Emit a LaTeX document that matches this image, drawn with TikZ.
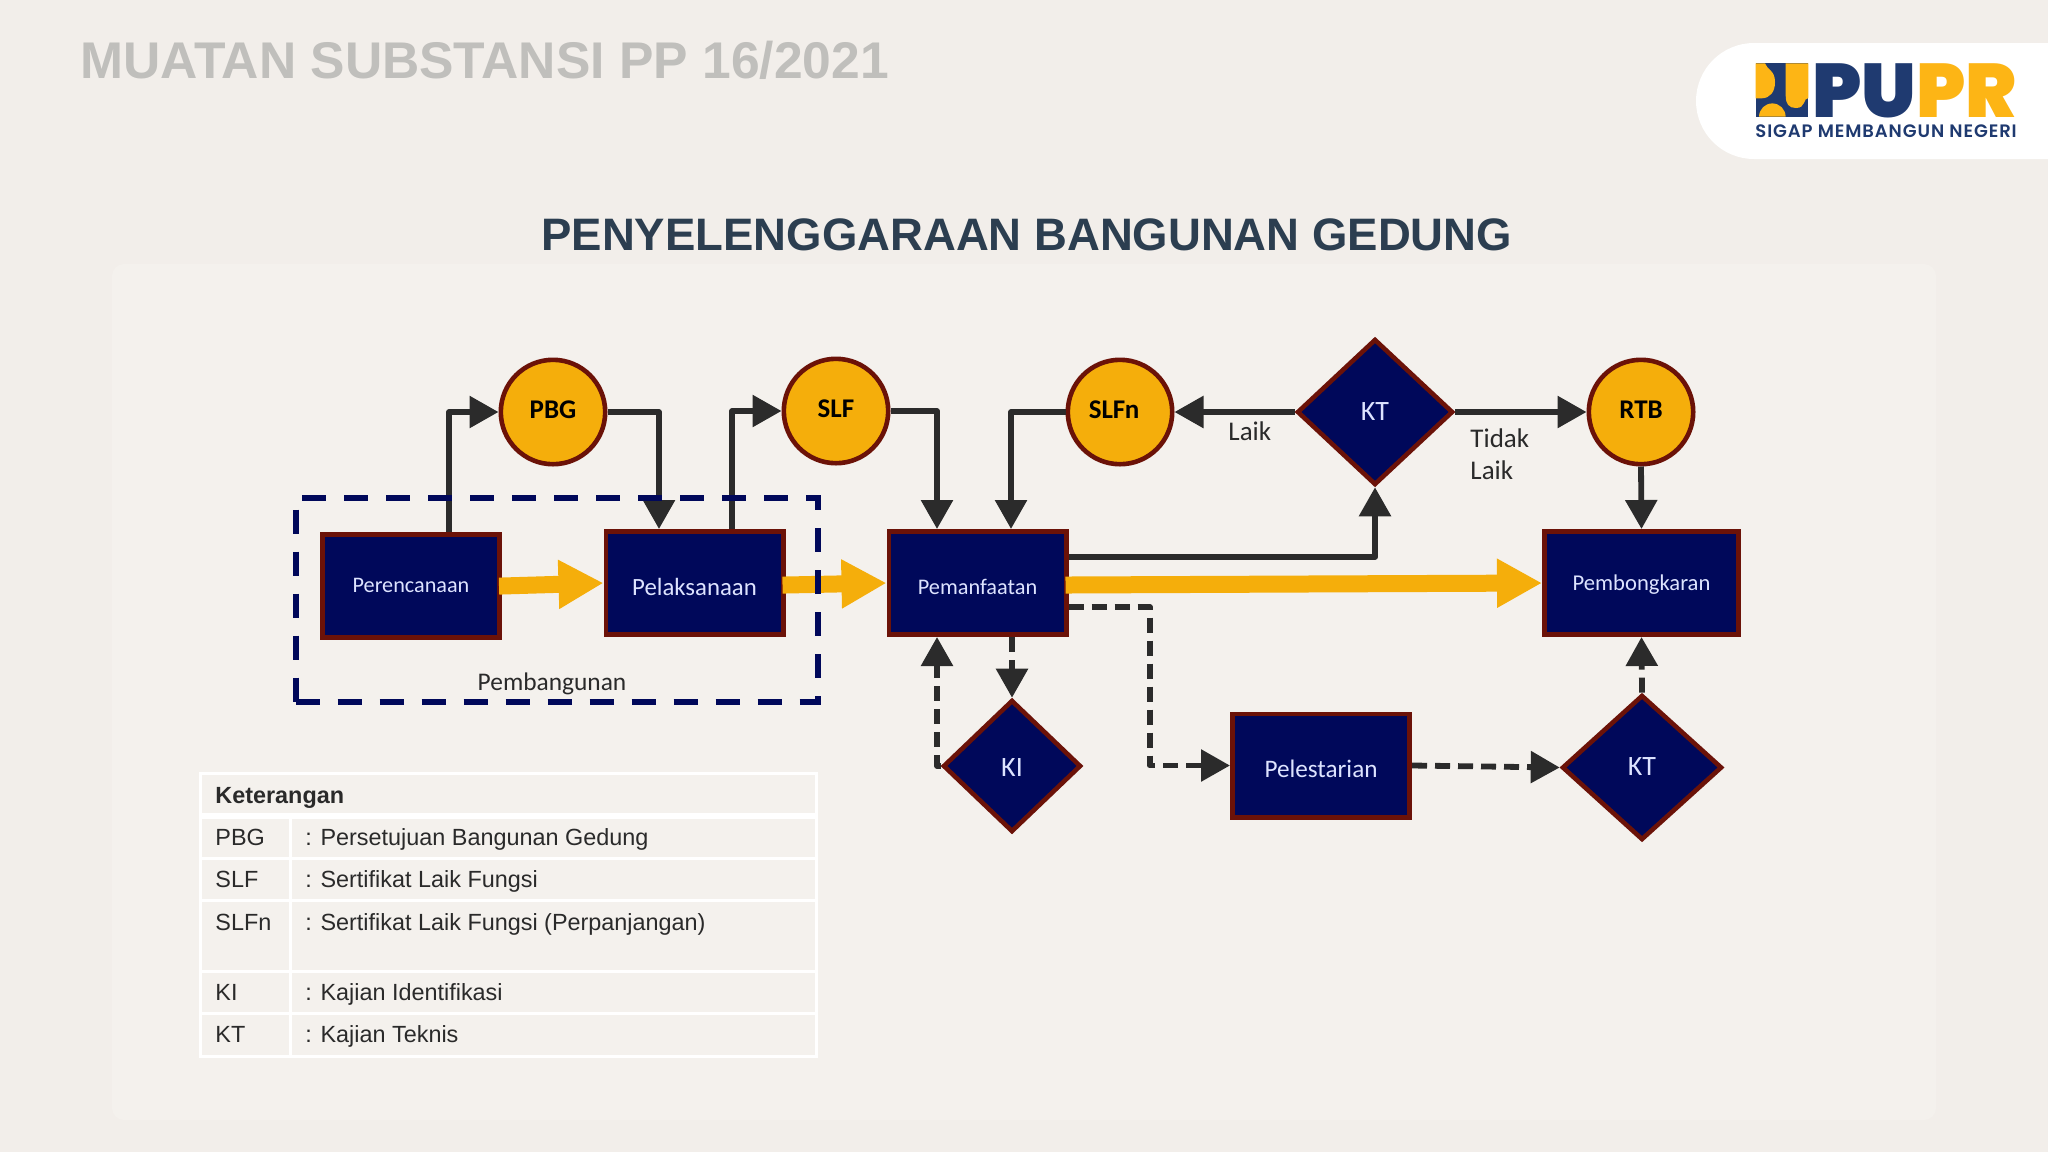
\documentclass[tikz,border=0pt]{standalone}
\usepackage{fontspec}
\setmainfont{Liberation Sans}
\newfontfamily\nodefont{Carlito}
\newfontfamily\logofont[UprightFont=* Black]{Poppins}
\newfontfamily\logosub[UprightFont=* SemiBold,LetterSpace=5]{Poppins}
\usetikzlibrary{shapes.geometric,arrows.meta}
\definecolor{bgc}{HTML}{F2EEEA}
\definecolor{panelc}{HTML}{F4F1ED}
\definecolor{navyc}{HTML}{00085A}
\definecolor{brdc}{HTML}{6B1208}
\definecolor{amberc}{HTML}{F5AE0B}
\definecolor{linec}{HTML}{2B2B2B}
\definecolor{logonavy}{HTML}{1F3A70}
\definecolor{logoamber}{HTML}{FDB515}
\definecolor{ttlgray}{HTML}{C0BFBC}
\definecolor{ttldark}{HTML}{2C3E50}
\definecolor{boxtext}{HTML}{DDE3FF}
\definecolor{tbltext}{HTML}{2A2A2A}
\newcommand{\nf}[1]{\nodefont\fontsize{#1}{14}\selectfont}
\tikzset{
  boxnode/.style={rectangle,draw=brdc,fill=navyc,line width=2.3pt,minimum width=88.7pt,minimum height=51.7pt,inner sep=0pt,text=boxtext,text depth=0pt,text height=#1},
  circnode/.style={circle,draw=brdc,fill=amberc,line width=2.3pt,minimum size=52.2pt,inner sep=0pt,text=black,font=\nodefont\bfseries\fontsize{13.5}{15}\selectfont,text depth=0pt,text height=6pt},
  dmdnode/.style={diamond,draw=brdc,fill=navyc,line width=2.3pt,inner sep=0pt,text=boxtext,font=\nf{14},text depth=0pt,text height=#1},
  conn/.style={draw=linec,line width=2.9pt,line join=round,-{Triangle[length=14.5pt,width=15.5pt]}},
  dconn/.style={conn,dash pattern=on 7.5pt off 4pt},
  bigarrow/.style={draw=amberc,line width=8.5pt,shorten <=-1.5pt,-{Triangle[length=22.5pt,width=23pt]}},
  lbl/.style={inner sep=0pt,anchor=base west,text=tbltext,font=\nf{13.5}},
  tbl/.style={inner sep=0pt,anchor=base west,text=tbltext,font=\fontsize{11.7}{13}\selectfont},
  tblline/.style={draw=white,line width=1.5pt},
}
\begin{document}
\begin{tikzpicture}[x=0.5pt,y=-0.5pt]
\useasboundingbox (0,0) rectangle (2048,1152);
\fill[bgc] (0,0) rectangle (2048,1152);
\fill[panelc,rounded corners=6pt] (112,264) rectangle (1936,1120);
% logo
\fill[white] (2048,43) -- (1754,43) arc[start angle=90,end angle=270,radius=29pt] -- (2048,159) -- cycle;
\fill[logonavy] (1755.7,63.3) rectangle (1808.3,116.7);
\fill[logoamber] (1755.7,63.3) -- (1765,63.3) .. controls (1767,70) and (1775,70) .. (1775,82) .. controls (1775,92) and (1770,98) .. (1762,98.3) -- (1755.7,98.3) -- cycle;
\fill[logoamber] (1785.7,63.3) -- (1808.3,63.3) -- (1808.3,98) .. controls (1803,98) and (1806,108) .. (1796,108) .. controls (1789,108) and (1785.7,104) .. (1785.7,96) -- cycle;
\fill[logoamber] (1759,116.7) arc[start angle=180,end angle=0,radius=6.65pt] -- cycle;
\node[inner sep=0pt,anchor=base west,text height=27pt,text depth=0pt,font=\logofont\fontsize{38}{40}\selectfont] (logotext) at (1812,117) {\textcolor{logonavy}{PU}\textcolor{logoamber}{PR}};
\node[inner sep=0pt,anchor=base west,text=logonavy,text height=6.5pt,text depth=0pt,font=\logosub\fontsize{9}{10}\selectfont] (logosubt) at (1755,137) {SIGAP MEMBANGUN NEGERI};
% titles
\node[inner sep=0pt,anchor=base west,text=ttlgray,font=\bfseries\fontsize{25.8}{28}\selectfont] (maintitle) at (80,78) {MUATAN SUBSTANSI PP 16/2021};
\node[inner sep=0pt,anchor=base west,text=ttldark,font=\bfseries\fontsize{22.75}{26}\selectfont] (subtitle) at (541,250) {PENYELENGGARAAN BANGUNAN GEDUNG};
% nodes
\node[boxnode=6pt,font=\nf{11.1}] (per) at (411,586) {Perencanaan};
\node[boxnode=12pt,font=\nf{12.4}] (pel) at (694.5,583) {Pelaksanaan};
\node[boxnode=11pt,font=\nf{11.15}] (pem) at (977.5,583) {Pemanfaatan};
\node[boxnode=7pt,font=\nf{11.3},minimum width=97.2pt] (pbk) at (1641.5,583) {Pembongkaran};
\node[boxnode=11.5pt,font=\nf{12.6}] (pls) at (1321,765.5) {Pelestarian};
\node[circnode] (pbg) at (553,412) {PBG};
\node[circnode] (slf) at (836,411) {SLF};
\node[circnode] (slfn) at (1120,412) {SLFn\rule{6pt}{0pt}};
\node[circnode] (rtb) at (1641,412) {RTB};
\node[dmdnode=8pt,minimum width=78pt,minimum height=73pt] (ktu) at (1375,412) {KT};
\node[dmdnode=10pt,minimum width=69pt,minimum height=66pt] (ki) at (1012,766) {KI};
\node[dmdnode=7.5pt,minimum width=80pt,minimum height=72.5pt] (ktb) at (1642,767.5) {KT};
% connectors
\draw[conn] ([xshift=19pt]per.north) |- (pbg.west);
\draw[conn] (pbg.east) -| ([xshift=-17.75pt]pel.north);
\draw[conn] ([xshift=18.75pt]pel.north) |- (slf.west);
\draw[conn] (slf.east) -| ([xshift=-20.25pt]pem.north);
\draw[conn] (slfn.west) -| ([xshift=16.75pt]pem.north);
\draw[conn] (ktu.west) -- (slfn.east);
\draw[conn] (ktu.east) -- (rtb.west);
\draw[conn] (rtb.south) -- (pbk.north);
\draw[conn] ([yshift=13pt]pem.east) -| (ktu.south);
\coordinate (bend) at (1150,700);
\draw[dconn] ([yshift=-12pt]pem.east) -- ([yshift=-12pt]pem.east -| bend) -- (bend |- pls.west) -- (pls.west);
\draw[dconn] (pem.south -| ki.north) -- (ki.north);
\draw[dconn] (ki.west) -| ([xshift=-20.25pt]pem.south);
\draw[dconn] (pls.east) -- (ktb.west);
\draw[dconn] (ktb.north) -- (pbk.south);
\draw[bigarrow] (per.east) -- (pel.west);
\draw[bigarrow] ([yshift=-1pt]pel.east) -- (pem.west);
\draw[bigarrow] ([yshift=-1pt]pem.east) -- (pbk.west);
% dashed frame
\node[draw=navyc,line width=3pt,dash pattern=on 12pt off 9pt,rectangle,minimum width=261pt,minimum height=102pt,inner sep=0pt] (frame) at (556.5,599.5) {};
\node[lbl,anchor=base,font=\nf{12.7}] (pembangunan) at (552,690) {Pembangunan};
\node[lbl] (laik) at (1228,440) {Laik};
\node[lbl] (tidak) at (1470,447) {Tidak};
\node[lbl] (tidaklaik) at (1470,479) {Laik};
% table
\draw[tblline] (200.5,773) rectangle (816,1056);
\draw[draw=white,line width=3pt] (200.5,816) -- (816,816);
\foreach \yy in {858,900,971,1013}{\draw[tblline] (200.5,\yy) -- (816,\yy);}
\draw[tblline] (290,816) -- (290,1056);
\node[tbl,font=\bfseries\fontsize{11.7}{13}\selectfont] (tk) at (215,803) {Keterangan};
\node[tbl] (t1) at (215,845) {PBG};
\node[tbl] (t1b) at (305,845) {: Persetujuan Bangunan Gedung};
\node[tbl] (t2) at (215,887) {SLF};
\node[tbl] (t2b) at (305,887) {: Sertifikat Laik Fungsi};
\node[tbl] (t3) at (215,930) {SLFn};
\node[tbl] (t3b) at (305,930) {: Sertifikat Laik Fungsi (Perpanjangan)};
\node[tbl] (t4) at (215,1000) {KI};
\node[tbl] (t4b) at (305,1000) {: Kajian Identifikasi};
\node[tbl] (t5) at (215,1042) {KT};
\node[tbl] (t5b) at (305,1042) {: Kajian Teknis};
\end{tikzpicture}
\end{document}
